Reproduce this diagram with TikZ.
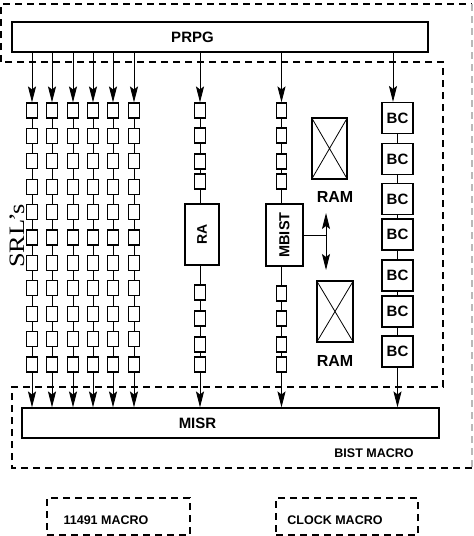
\documentclass[tikz,border=0pt]{standalone}
\usepackage{fontspec}
\setmainfont{Liberation Sans}
\newfontfamily\srlfont{Liberation Serif}
\usetikzlibrary{arrows.meta}
\tikzset{
  box/.style={draw, line width=1.1pt, inner sep=0pt},
  srl/.style={box, minimum width=10.6pt, minimum height=15pt},
  bcbox/.style={box, minimum width=31pt, minimum height=31pt, font=\bfseries\fontsize{15}{15}\selectfont},
  bigbar/.style={box, minimum height=30pt},
  lbl/.style={font=\bfseries\fontsize{15}{15}\selectfont, inner sep=0pt},
  smalllbl/.style={font=\bfseries\fontsize{12.5}{12.5}\selectfont, inner sep=0pt},
  tipshape/.tip={Stealth[length=16pt,width=8pt,inset=3pt]},
  arr/.style={-tipshape, line width=0.9pt},
  dblarr/.style={tipshape-tipshape, line width=0.9pt},
  wire/.style={line width=0.9pt},
  macro/.style={dash pattern=on 7pt off 5pt, line width=1.1pt},
}
\begin{document}
\begin{tikzpicture}[x=1pt,y=-1pt]
\useasboundingbox (0,0) rectangle (474,536);

% BIST macro outline
\draw[macro] (1,62) -- (1,4) -- (472,4);
\draw[macro, gray!55] (472,4) -- (472,468);
\draw[macro] (472,468) -- (12,468) -- (12,387) -- (443,387) -- (443,62) -- (1,62);

% PRPG and MISR
\node[bigbar, minimum width=416pt] (prpg) at (220,37) {};
\node[lbl] (prpgt) at (192.5,37) {PRPG};
\node[bigbar, minimum width=417pt] (misr) at (230.5,423) {};
\node[lbl] (misrt) at (197.5,423) {MISR};
\node[smalllbl] (bistt) at (374,453) {BIST MACRO};

% SRL chains
\foreach \c/\x in {1/32,2/52,3/73,4/93,5/113,6/134} {
  \foreach \k in {0,...,10} {
    \node[srl] (s\c-\k) at (\x,110.5+25.4*\k) {};
  }
  \foreach \k [evaluate=\k as \n using int(\k+1)] in {0,...,9} {
    \draw[wire] (s\c-\k) -- (s\c-\n);
  }
  \draw[arr] (s\c-0 |- prpg.south) -- (s\c-0.north);
  \draw[arr] (s\c-10.south) -- (s\c-10 |- misr.north);
}
\node[rotate=90, xscale=1.2, font=\srlfont\fontsize{22}{22}\selectfont, inner sep=0pt] (srl) at (17,236) {SRL’s};

% RA column
\node[box, minimum width=34pt, minimum height=61pt, font=\bfseries\fontsize{14}{14}\selectfont] (ra) at (202,234.5) {\rotatebox{90}{RA}};
\foreach \k/\y in {1/110.5,2/135.5,3/161.5,4/181.5,5/292.5,6/318.5,7/344.5,8/364.5} {
  \node[srl] (r\k) at (200,\y) {};
}
\foreach \a/\b in {1/2,2/3,3/4,5/6,6/7,7/8} { \draw[wire] (r\a) -- (r\b); }
\draw[wire] (r4.south) -- (r4 |- ra.north);
\draw[wire] (r5 |- ra.south) -- (r5.north);
\draw[arr] (r1 |- prpg.south) -- (r1.north);
\draw[arr] (r8.south) -- (r8 |- misr.north);

% MBIST column
\node[box, minimum width=37pt, minimum height=62pt, font=\bfseries\fontsize{14.5}{14.5}\selectfont] (mbist) at (284.5,235) {\rotatebox{90}{MBIST}};
\foreach \k/\y in {1/110.5,2/135.5,3/161.5,4/181.5,5/293.5,6/318.5,7/344.5,8/364.5} {
  \node[srl] (m\k) at (281.5,\y) {};
}
\foreach \a/\b in {1/2,2/3,3/4,5/6,6/7,7/8} { \draw[wire] (m\a) -- (m\b); }
\draw[wire] (m4.south) -- (m4 |- mbist.north);
\draw[wire] (m5 |- mbist.south) -- (m5.north);
\draw[arr] (m1 |- prpg.south) -- (m1.north);
\draw[arr] (m8.south) -- (m8 |- misr.north);

% RAMs
\node[box, minimum width=35pt, minimum height=61pt] (ram1) at (329.5,148.5) {};
\draw[line width=0.8pt] (ram1.north west) -- (ram1.south east) (ram1.north east) -- (ram1.south west);
\node[box, minimum width=36pt, minimum height=61pt] (ram2) at (335,311.5) {};
\draw[line width=0.8pt] (ram2.north west) -- (ram2.south east) (ram2.north east) -- (ram2.south west);
\node[lbl, font=\bfseries\fontsize{16}{16}\selectfont] (ram1t) at (335,197) {RAM};
\node[lbl, font=\bfseries\fontsize{16}{16}\selectfont] (ram2t) at (335,361) {RAM};
\coordinate (dtop) at (326,213);
\coordinate (dbot) at (326,270);
\draw[wire] (mbist.east) -- (mbist.east -| dtop);
\draw[dblarr] (dtop) -- (dbot);

% BC column
\foreach \k/\y in {1/118,2/159,3/199,4/234.5,5/275.5,6/311.5,7/351.5} {
  \node[bcbox] (bc\k) at (397.5,\y) {BC};
}
\foreach \a/\b in {1/2,2/3,3/4,4/5,5/6,6/7} { \draw[wire] (bc\a) -- (bc\b); }
\coordinate (bcx) at (393,0);
\draw[arr] (bcx |- prpg.south) -- (bcx |- bc1.north);
\draw[arr] (bc7.south) -- (bc7 |- misr.north);

% other macros
\node[draw, macro, minimum width=143pt, minimum height=37pt] (m11491) at (118.5,516.5) {};
\node[smalllbl] (m11491t) at (106,520) {11491 MACRO};
\node[draw, macro, minimum width=142pt, minimum height=37pt] (clk) at (347,516.5) {};
\node[smalllbl] (clkt) at (335,520) {CLOCK MACRO};
\end{tikzpicture}
\end{document}
